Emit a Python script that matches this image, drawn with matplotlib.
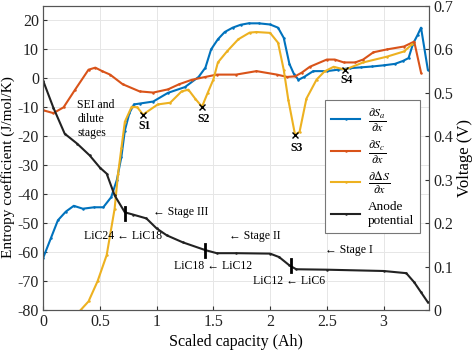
import matplotlib
matplotlib.use("Agg")
import matplotlib.pyplot as plt

plt.rcParams['font.family'] = ['Liberation Serif', 'DejaVu Serif']
plt.rcParams['mathtext.fontset'] = 'stix'
plt.rcParams['axes.unicode_minus'] = False

# dS_a/dx (blue)
blue_x = [0, 0.07, 0.13, 0.2, 0.27, 0.35, 0.45, 0.53, 0.6, 0.65, 0.69, 0.72, 0.76, 0.8, 0.85, 0.97,
          1.1, 1.25, 1.37, 1.43, 1.48, 1.54, 1.6, 1.67, 1.74, 1.81, 1.9, 2.0, 2.07, 2.12, 2.17, 2.21,
          2.25, 2.3, 2.38, 2.5, 2.6, 2.7, 2.8, 2.9, 3.0, 3.1, 3.17, 3.22, 3.26, 3.3, 3.33, 3.39]
blue_y = [-62, -55, -49, -46, -44, -45, -44.5, -44.5, -41, -35, -27, -18, -12, -9, -8.7, -8,
          -5, -3, 0.5, 3.7, 10, 13.5, 16, 17.5, 18.5, 19, 19, 18.6, 17.5, 14, 5, 1.5,
          -0.5, 0.5, 2.5, 2.5, 3, 3.5, 3.8, 4.1, 4.5, 5, 6, 7, 12, 15, 17.5, 3]

# dS_c/dx (red)
red_x = [0, 0.09, 0.18, 0.28, 0.4, 0.46, 0.52, 0.59, 0.7, 0.85, 0.97, 1.1, 1.2, 1.31, 1.43, 1.53,
         1.7, 1.88, 2.06, 2.15, 2.22, 2.28, 2.35, 2.5, 2.57, 2.65, 2.75, 2.82, 2.91, 3.03, 3.18, 3.27, 3.33]
red_y = [-11, -12, -10, -4, 3, 3.7, 2.5, 1.3, -2, -4.5, -4.9, -3.8, -2, -0.5, 0.5, 1.3,
         1.3, 2.5, 1.3, 0.5, 0.7, 2, 4, 6.5, 6.5, 5.5, 5.5, 6.5, 9, 10, 11, 12.7, 2]

# dDeltaS/dx (yellow)
yel_x = [0.33, 0.40, 0.48, 0.56, 0.63, 0.66, 0.69, 0.72, 0.78, 0.83, 0.88, 1.01, 1.12, 1.22, 1.28,
         1.34, 1.40, 1.45, 1.5, 1.54, 1.62, 1.72, 1.82, 1.88, 2.0, 2.07, 2.12, 2.16, 2.22, 2.26,
         2.32, 2.41, 2.48, 2.56, 2.66, 2.82, 3.03, 3.18, 3.25]
yel_y = [-80, -77, -70, -61, -45, -33, -24, -15, -9.8, -10, -12.5, -9, -8.4, -4.5, -3.9,
         -7, -9.8, -5, -0.4, 5.5, 9.3, 13.5, 15.8, 16, 15.7, 12.3, 3, -7.3, -19.5, -18.4,
         -7, -0.4, 2.4, 4, 3, 5.5, 7.5, 9.3, 11.7]

# Anode potential (V)
anode_x = [0, 0.09, 0.19, 0.30, 0.41, 0.5, 0.56, 0.63, 0.72, 0.79, 0.91, 1.0, 1.09, 1.23, 1.43,
           1.53, 1.7, 2.0, 2.08, 2.17, 2.23, 2.5, 3.0, 3.2, 3.27, 3.33, 3.39]
anode_v = [0.528, 0.466, 0.406, 0.383, 0.356, 0.328, 0.314, 0.264, 0.225, 0.220, 0.211, 0.188,
           0.172, 0.156, 0.138, 0.131, 0.131, 0.13, 0.122, 0.103, 0.094, 0.093, 0.09, 0.085,
           0.064, 0.041, 0.018]

s_labels = ["S1", "S2", "S3", "S4"]
s_x = [0.88, 1.40, 2.22, 2.66]
s_y = [-12.5, -9.8, -19.5, 3.0]

stage_x = [0.72, 1.43, 2.18]
stage_v = [0.222, 0.137, 0.102]

xticks = [0, 0.5, 1, 1.5, 2, 2.5, 3]
yticks_left = [-80, -70, -60, -50, -40, -30, -20, -10, 0, 10, 20]
yticks_right = [0, 0.1, 0.2, 0.3, 0.4, 0.5, 0.6, 0.7]

c_blue = '#0072BD'
c_red = '#D95319'
c_yel = '#EDB120'

fig = plt.figure(figsize=(4.74, 3.5), dpi=100)
ax = fig.add_axes([0.091, 0.114, 0.814, 0.869])
ax2 = ax.twinx()

lw = 1.5
ms = 1.6
hb, = ax.plot(blue_x, blue_y, color=c_blue, lw=lw, marker='.', ms=ms)
hr, = ax.plot(red_x, red_y, color=c_red, lw=lw, marker='.', ms=ms)
hy, = ax.plot(yel_x, yel_y, color=c_yel, lw=lw, marker='.', ms=ms)
ax.plot(s_x, s_y, 'x', color='black', ms=5, mew=1.0, zorder=5)

hk, = ax2.plot(anode_x, anode_v, color='#222222', lw=lw, marker='.', ms=ms)
for sx, sv in zip(stage_x, stage_v):
    ax2.plot([sx, sx], [sv - 0.015, sv + 0.015], color='black', lw=2)

ax.set_xlim(0, 3.4)
ax.set_ylim(-80, 25)
ax2.set_ylim(0, 0.7)
ax.set_xticks(xticks)
ax.set_xticklabels(['0', '0.5', '1', '1.5', '2', '2.5', '3'])
ax.set_yticks(yticks_left)
ax2.set_yticks(yticks_right)
ax2.set_yticklabels(['0', '0.1', '0.2', '0.3', '0.4', '0.5', '0.6', '0.7'])
ax.grid(True, color='#e6e6e6', lw=0.7)
ax.set_axisbelow(True)
for a in (ax, ax2):
    a.tick_params(labelsize=11.5, direction='in', length=3, colors='#333333', labelcolor='#222222', pad=3)
    for s in a.spines.values():
        s.set_color('#555555')
        s.set_linewidth(0.8)

ax.set_xlabel('Scaled capacity (Ah)', fontsize=11.5, labelpad=3)
ax.set_ylabel('Entropy coefficient (J/mol/K)', fontsize=11, labelpad=2)
ax.yaxis.label.set_y(0.47)
ax2.set_ylabel('Voltage (V)', fontsize=12, labelpad=3)

tfs = 8.5
for lab, sx, sy, dy in zip(s_labels, s_x, s_y, [-3.8, -4.2, -4.5, -3.4]):
    ax.text(sx + 0.01, sy + dy, lab, ha='center', va='center', fontsize=tfs, fontweight='bold')

ax.text(0.30, -14, 'SEI and\ndilute\nstages', ha='left', va='center', fontsize=tfs, linespacing=1.25)
ax.text(0.97, -46, '\u2190 Stage III', ha='left', va='center', fontsize=tfs)
ax.text(0.70, -54.4, 'LiC24 \u2190 LiC18', ha='center', va='center', fontsize=tfs)
ax.text(1.64, -54.4, '\u2190 Stage II', ha='left', va='center', fontsize=tfs)
ax.text(1.50, -64.8, 'LiC18 \u2190 LiC12', ha='center', va='center', fontsize=tfs)
ax.text(2.48, -59.2, '\u2190 Stage I', ha='left', va='center', fontsize=tfs)
ax.text(2.17, -70, 'LiC12 \u2190 LiC6', ha='center', va='center', fontsize=tfs)

leg = ax2.legend([hb, hr, hy, hk],
                 [r'$\frac{\partial S_a}{\partial x}$', r'$\frac{\partial S_c}{\partial x}$',
                  r'$\frac{\partial \Delta S}{\partial x}$', 'Anode\npotential'],
                 loc='upper left', bbox_to_anchor=(0.731, 0.691), borderaxespad=0,
                 fontsize=9.5, fancybox=False, framealpha=1, edgecolor='#777777',
                 handlelength=2.2, borderpad=0.45, labelspacing=0.3, handletextpad=0.6)
leg.get_frame().set_linewidth(0.8)
for t in leg.get_texts()[:3]:
    t.set_fontsize(12.5)

fig.savefig('out.png', dpi=100)
